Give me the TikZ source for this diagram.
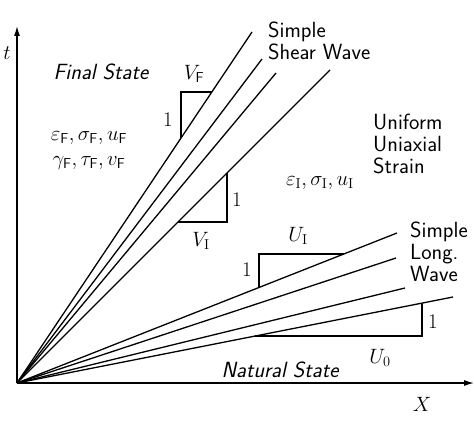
\documentclass[tikz,border=0pt]{standalone}
\usepackage{tikz}
\usetikzlibrary{arrows.meta}

\tikzset{
  wave/.style={line width=1.3pt},
  slope/.style={line width=1.1pt},
  lbl/.style={font=\fontsize{22}{22}\selectfont\sffamily, align=left, anchor=west, inner sep=0pt},
  stlbl/.style={font=\fontsize{22}{22}\selectfont\sffamily\slshape, inner sep=0pt},
  mth/.style={font=\fontsize{22.5}{22}\selectfont, inner sep=0pt}
}

\begin{document}
\begin{tikzpicture}[x=1pt, y=-1pt]
\useasboundingbox (0,0) rectangle (474,433);

% axes
\coordinate (O) at (17,383);
\coordinate (tend) at (17,26);
\coordinate (xend) at (474,383);
\draw[line width=1.2pt, -{Latex[length=10pt,width=6pt]}] (O) -- (tend);
\draw[line width=1.2pt, -{Latex[length=10pt,width=6pt]}] (O) -- (xend);
\node[mth] (tlab) at (7,53) {$t$};
\node[mth] (xlab) at (422,404) {$X$};

% shear fan
\coordinate (s1) at (252,32);
\coordinate (s2) at (262,59);
\coordinate (s3) at (276,73);
\coordinate (s4) at (330,70);
\foreach \e in {s1,s2,s3,s4}
  \draw[wave] (O) -- (\e);

% longitudinal fan
\coordinate (l1) at (397,233);
\coordinate (l2) at (396,258);
\coordinate (l3) at (405,288);
\coordinate (l4) at (453,297);
\foreach \e in {l1,l2,l3,l4}
  \draw[wave] (O) -- (\e);

% slope triangles
\draw[slope] (181,138) -- (181,92) -- (212,92);
\node[mth] (vf1) at (168,120) {$1$};
\node[mth] (vf) at (194,74) {$V_{\mathsf{F}}$};

\draw[slope] (178,222) -- (227,222) -- (227,173);
\node[mth] (vi1) at (237,200) {$1$};
\node[mth] (vi) at (201,241) {$V_{\mathrm{I}}$};

\draw[slope] (259,287.5) -- (259,254) -- (344,254);
\node[mth] (ui1) at (247,270) {$1$};
\node[mth] (ui) at (298,236) {$U_{\mathrm{I}}$};

\draw[slope] (255,336) -- (422,336) -- (422,303);
\node[mth] (u01) at (433,322) {$1$};
\node[mth] (u0) at (380,358) {$U_{0}$};

% labels
\node[stlbl] (final) at (101,72) {Final State};
\node[stlbl] (natural) at (280,370) {Natural State};
\node[lbl, anchor=north west] (shear) at (268,22) {Simple\\Shear Wave};
\node[lbl, anchor=north west] (uni) at (373,114) {Uniform\\Uniaxial\\Strain};
\node[lbl, anchor=north west] (long) at (410,222) {Simple\\Long.\\Wave};

\node[mth] (fst1) at (89,138) {$\varepsilon_{\mathsf{F}},\sigma_{\mathsf{F}},u_{\mathsf{F}}$};
\node[mth] (fst2) at (89,163) {$\gamma_{\mathsf{F}},\tau_{\mathsf{F}},v_{\mathsf{F}}$};
\node[mth] (ist) at (320,183) {$\varepsilon_{\mathrm{I}},\sigma_{\mathrm{I}},u_{\mathrm{I}}$};
\end{tikzpicture}
\end{document}
